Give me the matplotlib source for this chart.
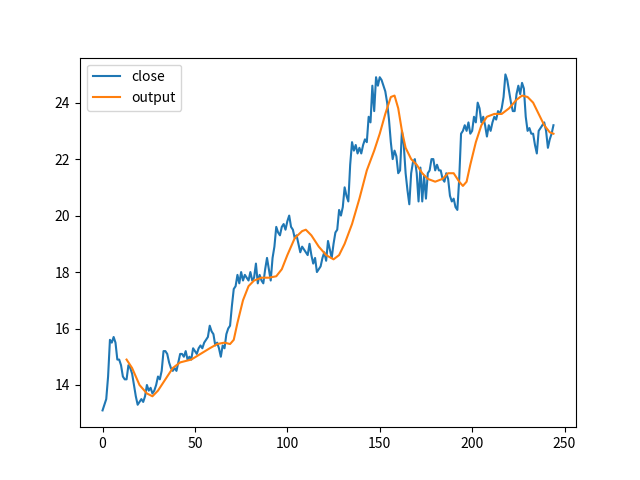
import numpy as np
import matplotlib
matplotlib.use("Agg")
import matplotlib.pyplot as plt

plt.rcParams['font.family'] = ['Noto Sans CJK SC', 'DejaVu Sans']

close_vals = [
    13.1, 13.3, 13.5, 14.3, 15.6, 15.5, 15.7, 15.5, 14.9, 14.9,
    14.7, 14.3, 14.2, 14.2, 14.7, 14.6, 14.4, 14.0, 13.6, 13.3,
    13.4, 13.5, 13.4, 13.6, 14.0, 13.8, 13.9, 13.7, 13.8, 14.0,
    14.3, 14.2, 14.5, 15.2, 15.2, 15.1, 14.8, 14.6, 14.5, 14.6,
    14.5, 14.8, 15.1, 15.1, 15.0, 15.2, 14.9, 15.0, 14.9, 15.3,
    15.2, 15.1, 15.3, 15.4, 15.3, 15.5, 15.6, 15.7, 16.1, 15.9,
    15.8, 15.4, 15.5, 15.3, 15.0, 15.4, 15.3, 15.8, 16.0, 16.1,
    16.8, 17.4, 17.5, 17.9, 17.6, 18.0, 17.7, 17.9, 17.8, 17.7,
    18.0, 17.7, 17.8, 18.3, 17.6, 17.9, 17.7, 17.6, 18.1, 18.5,
    18.1, 17.7, 18.5, 18.9, 19.6, 19.4, 19.3, 19.6, 19.7, 19.5,
    19.8, 20.0, 19.6, 19.5, 19.2, 19.3, 19.0, 18.7, 18.9, 18.8,
    18.7, 18.6, 19.0, 18.6, 18.3, 18.5, 18.0, 18.1, 18.2, 18.5,
    18.7, 18.4, 19.1, 18.8, 18.5, 19.0, 19.4, 19.5, 20.2, 20.0,
    20.3, 21.0, 20.7, 20.5, 21.8, 22.6, 22.3, 22.5, 22.2, 22.4,
    22.2, 22.5, 22.7, 22.6, 23.5, 23.3, 24.6, 23.7, 24.9, 24.6,
    24.9, 24.8, 24.6, 24.4, 24.0, 23.4, 22.6, 22.0, 22.3, 22.1,
    21.5, 21.6, 23.0, 22.5, 21.5, 20.9, 20.4, 21.5, 21.9, 22.0,
    21.5, 20.5, 21.7, 20.5, 21.4, 20.6, 21.5, 21.6, 22.0, 22.0,
    21.6, 21.8, 21.6, 21.6, 21.3, 21.2, 21.5, 21.3, 20.7, 20.5,
    20.6, 20.3, 20.2, 21.3, 22.9, 23.0, 23.2, 23.0, 23.3, 22.9,
    23.0, 23.5, 23.3, 24.0, 23.8, 23.3, 23.5, 23.2, 22.8, 23.2,
    23.0, 23.3, 23.5, 23.4, 23.7, 23.6, 23.8, 24.2, 25.0, 24.8,
    24.4, 24.0, 23.7, 23.7, 24.3, 24.6, 24.3, 24.7, 24.5, 23.5,
    23.0, 23.1, 22.9, 22.9, 22.5, 22.2, 23.0, 23.1, 23.2, 23.3,
    23.0, 22.4, 22.7, 22.9, 23.2,
]
close_x = np.arange(len(close_vals))

output_x = [13, 16, 20, 24, 27, 30, 34, 38, 42, 48, 53, 58, 62, 66, 69, 71, 73,
            76, 79, 82, 86, 90, 94, 97, 100, 104, 108, 110, 113, 117, 121, 125,
            128, 131, 135, 139, 143, 147, 150, 153, 156, 158, 160, 162, 164, 167,
            170, 173, 176, 180, 184, 187, 190, 193, 195, 197, 199, 202, 205, 208,
            212, 216, 220, 224, 227, 230, 233, 236, 239, 242, 244]
output_vals = [14.9, 14.6, 14.0, 13.7, 13.6, 13.8, 14.2, 14.6, 14.8, 14.9, 15.1,
               15.3, 15.45, 15.5, 15.45, 15.6, 16.2, 17.0, 17.5, 17.7, 17.8, 17.8,
               17.85, 18.1, 18.6, 19.2, 19.45, 19.5, 19.3, 18.9, 18.6, 18.45, 18.6,
               19.0, 19.7, 20.6, 21.6, 22.3, 22.9, 23.6, 24.2, 24.25, 23.8, 23.0,
               22.4, 22.0, 21.8, 21.5, 21.3, 21.2, 21.3, 21.5, 21.5, 21.2, 21.05,
               21.2, 21.8, 22.6, 23.2, 23.5, 23.6, 23.6, 23.8, 24.1, 24.25, 24.2,
               24.0, 23.6, 23.2, 22.95, 22.9]

fig, ax = plt.subplots(figsize=(6.4, 4.8), dpi=100)
ax.plot(close_x, close_vals, color='#1f77b4', label='close')
ax.plot(output_x, output_vals, color='#ff7f0e', label='output')
ax.legend(loc='upper left')
fig.savefig('out.png')
